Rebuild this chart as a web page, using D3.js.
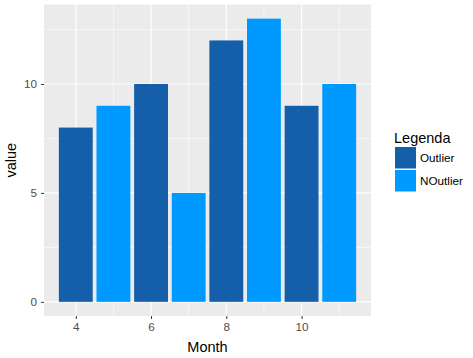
<!DOCTYPE html>
<html><head><meta charset="utf-8">
<script src="https://cdn.jsdelivr.net/npm/d3@7"></script>
<style>body{margin:0;background:#fff}svg{display:block;font-family:"Liberation Sans",Arial,sans-serif}</style>
</head><body>
<script>
const months = [4,5,6,7,8,9,10,11];
const values = [8,9,10,5,12,13,9,10];
const groups = ["Outlier","NOutlier","Outlier","NOutlier","Outlier","NOutlier","Outlier","NOutlier"];
const legendKeys = ["Outlier","NOutlier"];
const legendColors = ["#155EA9","#0099FF"];
const xTicks = [4,6,8,10];
const xMinor = [5,7,9,11];
const yTicks = [0,5,10];
const yMinor = [2.5,7.5,12.5];

const W=473,H=358;
const svg=d3.select("body").append("svg").attr("width",W).attr("height",H);
const L=44,R=371,T=4.5,B=316;
const x=d3.scaleLinear().domain([3.155,11.845]).range([L,R]);
const y=d3.scaleLinear().domain([-0.65,13.65]).range([B,T]);
const color=d3.scaleOrdinal().domain(legendKeys).range(legendColors);

svg.append("rect").attr("x",L).attr("y",T).attr("width",R-L).attr("height",B-T).attr("fill","#EBEBEB");
const g=svg.append("g");
xMinor.forEach(v=>g.append("line").attr("x1",x(v)).attr("x2",x(v)).attr("y1",T).attr("y2",B).attr("stroke","#fff").attr("stroke-width",0.6));
yMinor.forEach(v=>g.append("line").attr("y1",y(v)).attr("y2",y(v)).attr("x1",L).attr("x2",R).attr("stroke","#fff").attr("stroke-width",0.6));
xTicks.forEach(v=>g.append("line").attr("x1",x(v)).attr("x2",x(v)).attr("y1",T).attr("y2",B).attr("stroke","#fff").attr("stroke-width",1.2));
yTicks.forEach(v=>g.append("line").attr("y1",y(v)).attr("y2",y(v)).attr("x1",L).attr("x2",R).attr("stroke","#fff").attr("stroke-width",1.2));

const bw=x(0.9)-x(0);
svg.selectAll("rect.bar").data(months.map((m,i)=>({m,v:values[i],g:groups[i]}))).enter().append("rect")
 .attr("class","bar").attr("x",d=>x(d.m)-bw/2).attr("width",bw)
 .attr("y",d=>y(d.v)).attr("height",d=>y(0)-y(d.v)).attr("fill",d=>color(d.g));

const xa=svg.append("g").attr("transform",`translate(0,${B})`).call(d3.axisBottom(x).tickValues(xTicks).tickSize(3).tickPadding(4).tickFormat(d3.format("d")));
const ya=svg.append("g").attr("transform",`translate(${L},0)`).call(d3.axisLeft(y).tickValues(yTicks).tickSize(3).tickPadding(4).tickFormat(d3.format("d")));
[xa,ya].forEach(a=>{a.select(".domain").remove();a.selectAll(".tick line").attr("stroke","#333");
 a.selectAll("text").attr("fill","#4D4D4D").style("font-size","11.7px").style("font-family","Liberation Sans, Arial, sans-serif");});

svg.append("text").attr("x",(L+R)/2).attr("y",352).attr("text-anchor","middle").style("font-size","14.5px").attr("fill","#000").text("Month");
svg.append("text").attr("transform",`translate(16,${(T+B)/2}) rotate(-90)`).attr("text-anchor","middle").style("font-size","14.5px").attr("fill","#000").text("value");

const lg=svg.append("g");
lg.append("text").attr("x",394).attr("y",143).style("font-size","14.5px").attr("fill","#000").text("Legenda");
legendKeys.forEach((k,i)=>{
 const yy=147+i*23;
 lg.append("rect").attr("x",395).attr("y",yy).attr("width",21).attr("height",21.5).attr("fill",legendColors[i]);
 lg.append("text").attr("x",420).attr("y",yy+11).attr("dy","0.35em").style("font-size","11.7px").attr("fill","#000").text(k);
});
</script>
</body></html>
